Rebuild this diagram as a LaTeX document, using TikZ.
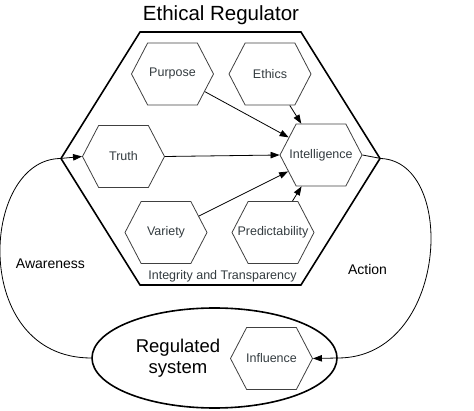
\documentclass[tikz,border=0pt]{standalone}
\usepackage{fontspec}
\setmainfont{Liberation Sans}
\usepackage{tikz}
\usetikzlibrary{shapes.geometric}
\usetikzlibrary{shapes.symbols}
\usetikzlibrary{arrows.meta}

\definecolor{hexgray}{HTML}{404040}
\definecolor{txtgray}{HTML}{333B3F}

\tikzset{
  hexa/.style={signal, signal to=east and west, signal from=nowhere,
    signal pointer angle=125, draw=hexgray, line width=0.8pt, inner sep=0pt,
    minimum width=82pt, minimum height=62pt},
  hexlabel/.style={text=txtgray, font=\fontsize{12.5}{15}\selectfont},
  link/.style={-{Triangle[length=9pt,width=6.5pt]}, line width=0.8pt}
}

\begin{document}
\begin{tikzpicture}[x=1pt,y=-1pt]
\useasboundingbox (0,0) rectangle (474,411);

% Regulator and regulated system
\node[signal, signal to=east and west, signal from=nowhere, signal pointer angle=116,
  draw, line width=1.6pt, minimum width=319pt, minimum height=253pt] (reg) at (220.5,158.5) {};
\node[font=\fontsize{20.5}{24}\selectfont] (title) at (221,15) {Ethical Regulator};
\node[hexlabel] (integ) at (222.5,276) {Integrity and Transparency};
\node[ellipse, draw, line width=1.6pt, minimum width=245pt, minimum height=100pt] (sys) at (214.5,358) {};
\node[font=\fontsize{18.5}{21}\selectfont, align=center] (systxt) at (178,358) {Regulated\\system};

% hexagons
\node[hexa, label={[hexlabel]center:Purpose}] (purpose) at (172.5,74) {};
\node[hexa, label={[hexlabel]center:Ethics}] (ethics) at (270,74) {};
\node[hexa, label={[hexlabel]center:Truth}] (truth) at (123.5,156.5) {};
\node[hexa, label={[hexlabel]center:Intelligence}] (intel) at (321,155) {};
\node[hexa, label={[hexlabel]center:Variety}] (variety) at (166,232.5) {};
\node[hexa, label={[hexlabel]center:Predictability}] (pred) at (273,232.5) {};
\node[hexa, label={[hexlabel]center:Influence}] (infl) at (271.5,358.5) {};

% inner arrows
\draw[link] (purpose) -- (intel);
\draw[link] (ethics) -- (intel);
\draw[link] (truth.east) -- (intel.west);
\draw[link] (variety) -- (intel);
\draw[link] (pred) -- (intel);

% feedback loop
\node[font=\fontsize{14}{17}\selectfont] (aware) at (50.5,264) {Awareness};
\node[font=\fontsize{14}{17}\selectfont] (action) at (367.5,269) {Action};
\draw[link] (sys.west) .. controls (-30,358) and (-20,160) .. (reg.west) -- (truth.west);
\draw[link] (intel.east) -- (reg.east) .. controls (458,162) and (448,358) .. (sys.east) -- (infl.east);
\end{tikzpicture}
\end{document}
